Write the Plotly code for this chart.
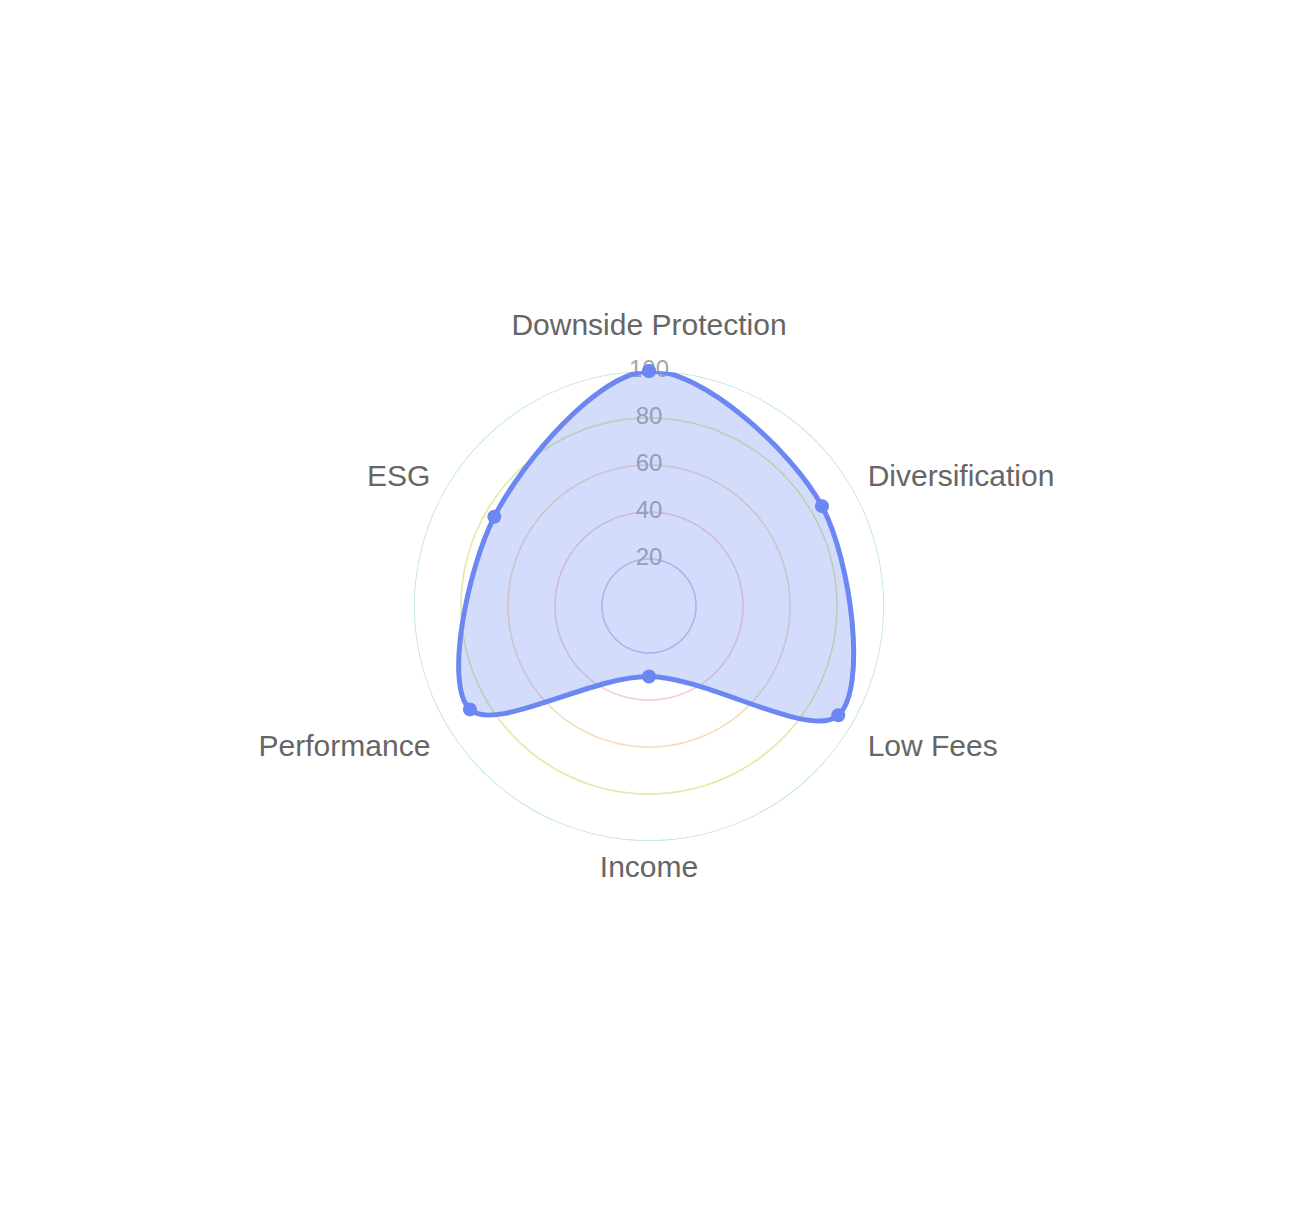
import numpy as np
import plotly.graph_objects as go

# categories and scores
categories = ["Downside Protection", "Diversification", "Low Fees",
              "Income", "Performance", "ESG"]
scores = [100, 85, 93, 30, 88, 76]

# radial ticks and their ring colours
tick_vals = [20, 40, 60, 80, 100]
tick_text = ["20", "40", "60", "80", "100"]
ring_colors = ["rgba(190,150,210,0.6)", "rgba(238,190,208,0.75)",
               "rgba(240,215,178,0.85)", "rgba(222,232,150,0.9)",
               "rgba(178,226,205,0.95)"]

angles = [i * 360 / len(categories) for i in range(len(categories))]
ring_theta = np.linspace(0, 360, 361)

fig = go.Figure()

# grid rings (polar)
for val, col in zip(tick_vals, ring_colors):
    fig.add_trace(go.Scatterpolar(
        r=[val] * len(ring_theta), theta=ring_theta, mode="lines",
        line=dict(color=col, width=1.6), hoverinfo="skip", subplot="polar"))

# radial tick labels, drawn under the dataset (polar2)
fig.add_trace(go.Scatterpolar(
    r=tick_vals, theta=[0] * len(tick_vals), mode="text",
    text=tick_text, textposition="middle center",
    textfont=dict(family="Liberation Sans, Arial", size=24, color="#a6a6a6"),
    hoverinfo="skip", subplot="polar2"))

# the dataset (polar3)
fig.add_trace(go.Scatterpolar(
    r=scores + scores[:1], theta=angles + angles[:1],
    mode="lines+markers", fill="toself",
    fillcolor="rgba(108,133,242,0.29)",
    line=dict(color="#6c86f2", width=5, shape="spline", smoothing=0.95),
    marker=dict(color="#6c86f2", size=14),
    name="Score", subplot="polar3"))

label_font = dict(family="Liberation Sans, Arial", size=30, color="#666666")
domain = dict(x=[0.3147, 0.6791], y=[0.3093, 0.6990])


def polar_layout(idx, ticklen):
    # each overlaid polar shows only some of the category labels
    shown = [categories[i] for i in idx]
    return dict(
        domain=domain,
        bgcolor="rgba(0,0,0,0)",
        radialaxis=dict(visible=False, range=[0, 100]),
        angularaxis=dict(
            rotation=90, direction="clockwise",
            tickvals=[angles[i] for i in idx], ticktext=shown,
            showgrid=False, showline=False,
            ticks="outside", ticklen=ticklen, tickcolor="rgba(0,0,0,0)",
            tickfont=label_font,
        ),
    )


fig.update_layout(
    width=1290, height=1206,
    paper_bgcolor="white",
    showlegend=False,
    margin=dict(l=0, r=0, t=0, b=0),
    polar=polar_layout([1, 2, 4, 5], 11),
    polar2=polar_layout([0], 24),
    polar3=polar_layout([3], 0),
)

fig.write_html("out.html")
